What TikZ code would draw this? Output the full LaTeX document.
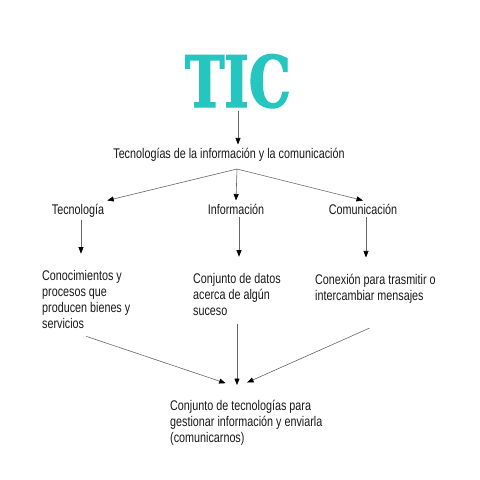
\documentclass[tikz,border=0pt]{standalone}
\usepackage{fontspec}
\setmainfont{Liberation Sans}[FakeStretch=0.77]
\newfontfamily\ticfont{DejaVu Serif Bold}[FakeStretch=0.74, FakeBold=2]
\usetikzlibrary{arrows.meta}
\definecolor{ticteal}{RGB}{37,197,192}

\begin{document}
\begin{tikzpicture}[x=1pt, y=-1pt,
  every node/.style={font=\fontsize{14}{16}\selectfont, text=black!90, inner sep=3pt},
  flow/.style={draw=black!60, line width=0.6pt, -{Triangle[length=6.5pt, width=5pt, color=black]}},
  block/.style={anchor=base west, align=left}]

\useasboundingbox[fill=white] (0,0) rectangle (480,480);

\node[anchor=base, font=\ticfont\fontsize{71}{71}\selectfont, text=ticteal] (tic) at (238,107) {TIC};
\node[anchor=base] (tecinfo) at (229,158) {Tecnologías de la información y la comunicación};
\coordinate (split) at (237,169);

\foreach \x/\name/\txt in {78/tec/Tecnología, 236/inf/Información, 363/com/Comunicación} {
  \node[anchor=base] (\name) at (\x,214) {\txt};
}

% base of a block = baseline of its last line
\node[block] (conoc) at (39,328) {Conocimientos y\\procesos que\\producen bienes y\\servicios};
\node[block] (datos) at (190,315) {Conjunto de datos\\acerca de algún\\suceso};
\node[block] (conex) at (312,300) {Conexión para trasmitir o\\intercambiar mensajes};
\node[block] (fin) at (167,442) {Conjunto de tecnologías para\\gestionar información y enviarla\\(comunicarnos)};
\coordinate (join) at (237,387);

% arrows
\draw[flow] (tic.south) -- (tic.south |- tecinfo.north);
\draw[flow] (split) -- (tec.north east);
\draw[flow] (split) -- (inf.north);
\draw[flow] (split) -- (com.north);
\foreach \name/\txt in {tec/conoc, inf/datos, com/conex} {
  \draw[flow, shorten >=13pt] ([xshift=3pt]\name.south) -- ([xshift=3pt]\name.south |- \txt.north);
}
\draw[flow, shorten >=12pt] ([yshift=-5pt]conoc.south) -- (join);
\draw[flow, shorten <=6pt, shorten >=2pt] (datos.south -| join) -- (join);
\draw[flow, shorten >=11pt] ([xshift=-6pt, yshift=-22pt]conex.south) -- (join);
\end{tikzpicture}
\end{document}
